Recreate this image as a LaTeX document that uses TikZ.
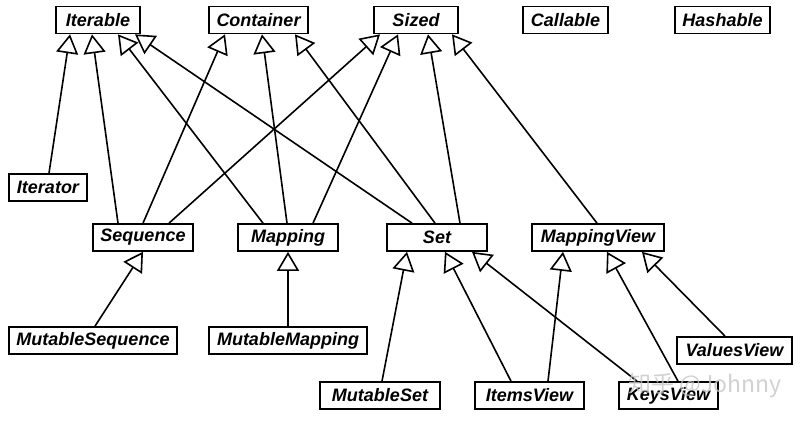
\documentclass[tikz,border=0pt]{standalone}
\usepackage{fontspec}
\setmainfont{Liberation Sans}
\newfontfamily\cjk{Noto Sans CJK SC}
\usetikzlibrary{arrows.meta}
\tikzset{
  cls/.style={draw, line width=1.7pt, inner sep=0pt, minimum height=27pt, text width=#1, align=center,
    font=\fontsize{18}{20}\selectfont\bfseries\itshape},
  inh/.style={line width=1.6pt, -{Triangle[length=19pt,width=22pt,fill=white,line width=1.6pt]}}
}
\begin{document}
\begin{tikzpicture}[x=1pt,y=-1pt]
\useasboundingbox (0,0) rectangle (800,423);
\node[cls=84pt] (iterable) at (98,20) {Iterable};
\node[cls=99pt] (container) at (258.5,20) {Container};
\node[cls=84pt] (sized) at (416,20) {Sized};
\node[cls=85pt] (callable) at (565.5,20) {Callable};
\node[cls=95pt] (hashable) at (722.5,20) {Hashable};
\node[cls=78pt] (iterator) at (48,187.5) {Iterator};
\node[cls=100pt] (sequence) at (143,237.5) {Sequence};
\node[cls=100pt] (mapping) at (288,237.5) {Mapping};
\node[cls=100pt] (set) at (437,237.5) {Set};
\node[cls=132pt] (mview) at (598,237.5) {MappingView};
\node[cls=115pt] (values) at (734.5,350.5) {ValuesView};
\node[cls=109pt] (items) at (529.5,395.5) {ItemsView};
\node[cls=99pt] (keys) at (668.5,395.5) {KeysView};
\node[cls=120pt] (mset) at (380,395.5) {MutableSet};
\node[cls=168pt] (mseq) at (93,340.5) {MutableSequence};
\node[cls=158pt] (mmap) at (288,340.5) {MutableMapping};
% Iterable
\draw[inh] ([xshift=1pt]iterator.north) -- ([xshift=-28pt]iterable.south);
\draw[inh] ([xshift=-25pt]sequence.north) -- ([xshift=-6pt]iterable.south);
\draw[inh] ([xshift=-25pt]mapping.north) -- ([xshift=20pt]iterable.south);
\draw[inh] ([xshift=-25pt]set.north) -- ([xshift=37pt]iterable.south);
% Container
\draw[inh] (sequence.north) -- ([xshift=-33.5pt]container.south);
\draw[inh] ([xshift=-1pt]mapping.north) -- ([xshift=3.5pt]container.south);
\draw[inh] ([xshift=-2pt]set.north) -- ([xshift=36.5pt]container.south);
% Sized
\draw[inh] ([xshift=26pt]sequence.north) -- ([xshift=-36pt]sized.south);
\draw[inh] ([xshift=25pt]mapping.north) -- ([xshift=-18pt]sized.south);
\draw[inh] ([xshift=23pt]set.north) -- ([xshift=12pt]sized.south);
\draw[inh] ([xshift=-1pt]mview.north) -- ([xshift=36pt]sized.south);
% second level
\draw[inh] ([xshift=2pt]mseq.north) -- (sequence.south);
\draw[inh] (mmap.north) -- (mapping.south);
\draw[inh] ([xshift=2pt]mset.north) -- ([xshift=-30pt]set.south);
\draw[inh] ([xshift=-18.5pt]items.north) -- ([xshift=8pt]set.south);
\draw[inh] ([xshift=-31.5pt]keys.north) -- ([xshift=35pt]set.south);
\draw[inh] ([xshift=18.5pt]items.north) -- ([xshift=-35pt]mview.south);
\draw[inh] ([xshift=9.5pt]keys.north) -- ([xshift=9pt]mview.south);
\draw[inh] ([xshift=-9.5pt]values.north) -- ([xshift=44pt]mview.south);
% watermark
\node[text=gray!45, opacity=0.8, font=\fontsize{23}{26}\selectfont] (wm) at (705,386) {\cjk 知乎 @Johnny};
\end{tikzpicture}
\end{document}
